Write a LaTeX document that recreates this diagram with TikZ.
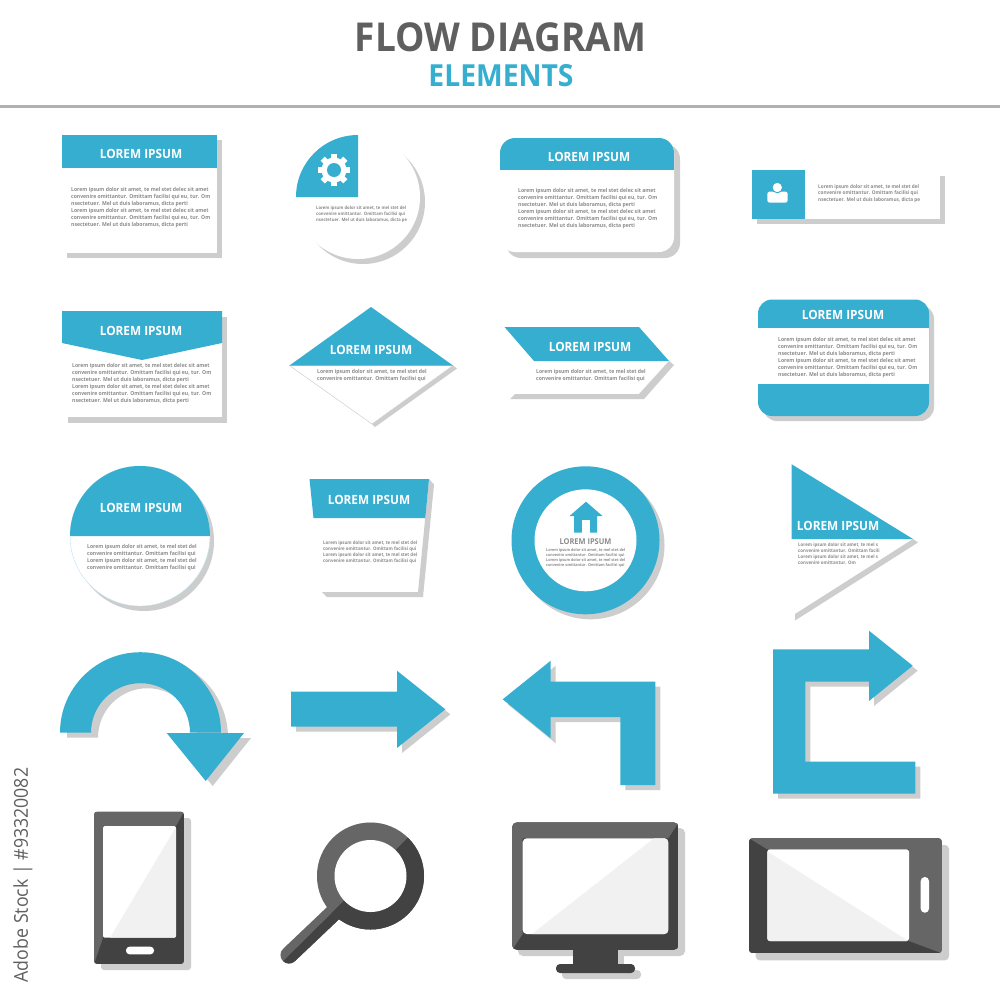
\documentclass[tikz,border=0pt]{standalone}
\usepackage{fontspec}
\setmainfont{Open Sans}[FakeStretch=0.93]
\definecolor{fblue}{HTML}{36AED0}
\definecolor{fshade}{HTML}{CDCDCD}
\definecolor{ftitle}{HTML}{5F5F5F}
\definecolor{fbody}{HTML}{8C8C8C}
\definecolor{fdark}{HTML}{424242}
\definecolor{fmid}{HTML}{666666}
\definecolor{flight}{HTML}{F1F1F1}
\definecolor{frule}{HTML}{B0B0B0}
\tikzset{
  bluefill/.style={fill=fblue},
  shadefill/.style={fill=fshade},
  head/.style={text=white,font=\bfseries\fontsize{12.7}{14}\selectfont,inner sep=0pt},
  bodytxt/.style={text=fbody,align=left,anchor=north west,inner sep=0pt},
  bodyL/.style={bodytxt,font=\bfseries\fontsize{5.48}{7}\selectfont},
  bodyB/.style={bodytxt,font=\bfseries\fontsize{5.05}{6.5}\selectfont},
  bodyT/.style={bodytxt,font=\bfseries\fontsize{4.7}{6}\selectfont},
  bodyM/.style={bodytxt,font=\bfseries\fontsize{4.5}{6}\selectfont},
  bodyS/.style={bodytxt,font=\bfseries\fontsize{3.95}{5.1}\selectfont},
}
\newcommand{\longA}{Lorem ipsum dolor sit amet, te mel stet delec sit amet\\convenire omittantur. Omittam facilisi qui eu, tur. Om\\nsectetuer. Mel ut duis laboramus, dicta perti}
\newcommand{\shortA}{Lorem ipsum dolor sit amet, te mel stet del\\convenire omittantur. Omittam facilisi qui}
\begin{document}
\begin{tikzpicture}[x=1pt,y=-1pt]
\useasboundingbox (0,0) rectangle (1000,999);
\fill[white] (0,0) rectangle (1000,999);
% title
\node[text=ftitle,font=\bfseries\fontsize{39.8}{42}\selectfont,inner sep=0pt] (title) at (500.5,37) {FLOW DIAGRAM};
\node[text=fblue,font=\bfseries\fontsize{30.4}{32}\selectfont,inner sep=0pt] (subtitle) at (501,76) {ELEMENTS};
\fill[frule] (0,105) rectangle (1000,108);
% side label
\node[text=ftitle,rotate=90,font=\fontsize{19.1}{21}\selectfont,inner sep=0pt] (stock) at (23,875) {Adobe Stock | \#93320082};

% 1 square box
\fill[shadefill] (67,140) rectangle (222,258);
\fill[white] (62,135) rectangle (217,253);
\fill[bluefill] (62,135) rectangle (217,168);
\node[head] (t1) at (141,154) {LOREM IPSUM};
\node[bodyL] (b1) at (71,187.3) {\longA\\\longA};

% 2 circle gear
\fill[shadefill] (363,202) circle [radius=62];
\fill[white] (358,197) circle [radius=62];
\fill[bluefill] (358,197) -- (358,135) arc (270:180:62) -- cycle;
\fill[white] (334,170) circle [radius=12.5];
\foreach \a in {0,45,...,315}{\fill[white,shift={(334,170)},rotate=\a] (-3,-16) rectangle (3,-10);}
\fill[bluefill] (334,170) circle [radius=7];
\node[bodyM] (b2) at (316,206) {Lorem ipsum dolor sit amet, te mel stet del\\convenire omittantur. Omittam facilisi qui\\nsectetuer. Mel ut duis laboramus, dicta pe};

% 3 rounded box
\fill[shadefill,rounded corners=15pt] (506,144) rectangle (680,258);
\fill[white,rounded corners=15pt] (500,138) rectangle (674,252);
\begin{scope}
\clip[rounded corners=15pt] (500,138) rectangle (674,252);
\fill[bluefill] (500,138) rectangle (674,169.5);
\end{scope}
\node[head] (t3) at (589,156.5) {LOREM IPSUM};
\node[bodyL] (b3) at (518,188.3) {\longA\\\longA};

% 4 person box
\fill[shadefill] (757,176) rectangle (945,224);
\fill[white] (752,170) rectangle (940,219);
\fill[bluefill] (752,170) rectangle (805,218.5);
\fill[white,rounded corners=2.5pt] (767.3,191.5) rectangle (787.7,202.7);
\fill[white,draw=fblue,line width=1pt] (777.3,187.5) circle [radius=5.3];
\node[bodyB] (b4) at (818,184) {Lorem ipsum dolor sit amet, te mel stet del\\convenire omittantur. Omittam facilisi qui\\nsectetuer. Mel ut duis laboramus, dicta pe};

% 5 banner box
\fill[shadefill] (68,317) rectangle (227,423);
\fill[white] (62,311) rectangle (222,417);
\fill[bluefill] (62,311) -- (222,311) -- (222,343) -- (142,360) -- (62,343) -- cycle;
\node[head] (t5) at (141,331) {LOREM IPSUM};
\node[bodyL] (b5) at (72,363) {\longA\\\longA};

% 6 diamond
\fill[shadefill] (289.5,365.5) -- (453,365.5) -- (457,368.5) -- (375,427) -- (372,424) -- cycle;
\fill[white,draw=fshade,line width=.4pt] (289.5,365.5) -- (372,424) -- (453,365.5) -- cycle;
\fill[bluefill] (371,307) -- (453,365.5) -- (289.5,365.5) -- cycle;
\node[head] (t6) at (371,349.5) {LOREM IPSUM};
\node[bodyL] (b6) at (317,369) {\shortA};

% 7 chevron
\fill[shadefill] (669,361) -- (674,365) -- (644,399) -- (510,399) -- (515,394) -- (639,394) -- cycle;
\fill[bluefill] (504.5,327) -- (639,327) -- (669,361) -- (534,361) -- cycle;
\node[head] (t7) at (590,347) {LOREM IPSUM};
\node[bodyL] (b7) at (536,369) {\shortA};

% 8 rounded full box
\fill[shadefill,rounded corners=14pt] (763,305) rectangle (934,421);
\fill[bluefill,rounded corners=14pt] (758,299.5) rectangle (929,416);
\fill[white] (758,328) rectangle (929,384);
\node[head] (t8) at (843,315) {LOREM IPSUM};
\node[bodyL] (b8) at (778,337) {\longA\\\longA};

% 9 half circle
\fill[shadefill] (144,541) circle [radius=70];
\fill[white,draw=fblue!35,line width=.4pt] (140,536) circle [radius=70];
\fill[bluefill] (70,536) arc (180:360:70) -- cycle;
\node[head] (t9) at (141,508) {LOREM IPSUM};
\node[bodyL] (b9) at (87,544) {\shortA\\\shortA};

% 10 trapezoid
\fill[shadefill] (434,484.5) -- (423,597) -- (327,597) -- (322,592) -- (418,592) -- (429,479) -- cycle;
\fill[bluefill] (309.5,479) -- (429,479) -- (425.3,518) -- (313.5,518) -- cycle;
\node[head] (t10) at (369,499.5) {LOREM IPSUM};
\node[bodyT] (b10) at (323,541) {\shortA\\\shortA};

% 11 ring
\fill[shadefill] (590.5,545.3) circle [radius=74];
\fill[bluefill] (585.5,540.3) circle [radius=74];
\fill[white] (585.5,540.3) circle [radius=51];
\fill[bluefill] (586,501.7) -- (602.5,516) -- (597,516) -- (597,532.7) -- (574,532.7) -- (574,516) -- (569.5,516) -- cycle;
\fill[white] (581.7,520.3) rectangle (590,532.7);
\node[text=fbody,font=\bfseries\fontsize{8}{9}\selectfont,inner sep=0pt] (t11) at (585.5,542) {LOREM IPSUM};
\node[bodyS] (b11) at (546,548) {\shortA\\\shortA};

% 12 triangle
\fill[shadefill] (913,539) -- (918,542.5) -- (795,620.5) -- (795,614) -- cycle;
\fill[bluefill] (791.7,464.3) -- (913,539) -- (791.7,539) -- cycle;
\node[head,anchor=west] (t12) at (796.7,526) {LOREM IPSUM};
\node[bodyT] (b12) at (798,543) {Lorem ipsum dolor sit amet, te mel s\\convenire omittantur. Omittam facili\\Lorem ipsum dolor sit amet, te mel s\\convenire omittantur. Om};

% 13 curved arrow
\newcommand{\curvearrow}{(60,732.7) arc (180:360:80.5) -- (190,732.7) arc (360:180:49.5) -- cycle (166.7,733) -- (244,733) -- (205.7,781) -- cycle}
\fill[shadefill,shift={(7,5)}] \curvearrow;
\fill[bluefill] \curvearrow;

% 14 right arrow
\newcommand{\rightarrowshape}{(291,691.7) -- (397,691.7) -- (397,670.7) -- (445.3,709.3) -- (397,748) -- (397,726.7) -- (291,726.7) -- cycle}
\fill[shadefill,shift={(5,5)}] \rightarrowshape;
\fill[bluefill] \rightarrowshape;

% 15 left turn arrow
\newcommand{\leftturnshape}{(502.7,699.3) -- (550.7,660.7) -- (550.7,681.7) -- (655.3,681.7) -- (655.3,785) -- (620.3,785) -- (620.3,717) -- (550.7,717) -- (550.7,738.3) -- cycle}
\fill[shadefill,shift={(5,5)}] \leftturnshape;
\fill[bluefill] \leftturnshape;

% 16 U-turn arrow
\newcommand{\uturnshape}{(773,649.3) -- (869,649.3) -- (869,630.7) -- (912.7,665.7) -- (869,701) -- (869,681.7) -- (805.3,681.7) -- (805.3,761.7) -- (915.3,761.7) -- (915.3,793.7) -- (773,793.7) -- cycle}
\fill[shadefill,shift={(5,5)}] \uturnshape;
\fill[bluefill] \uturnshape;

% phone
\fill[shadefill,rounded corners=3pt] (101,818) rectangle (191,970);
\begin{scope}
\clip[rounded corners=3pt] (94,811.7) rectangle (184,964);
\fill[fdark] (94,811.7) rectangle (184,964);
\fill[fmid] (94,811.7) -- (184,811.7) -- (176,826) -- (103,826) -- (103,937.7) -- (94,964) -- cycle;
\end{scope}
\fill[white,rounded corners=2pt] (103,826) rectangle (176,937.7);
\begin{scope}
\clip[rounded corners=2pt] (103,826) rectangle (176,937.7);
\fill[flight] (176,827) -- (176,937.7) -- (110,937.7) -- cycle;
\end{scope}
\fill[white,rounded corners=3.5pt] (126,946.7) rectangle (154,954.3);

% magnifier
\coordinate (lenscentre) at (370.5,876);
\coordinate (handleend) at (289,955);
\coordinate (handlestart) at (338.7,907.8);
\begin{scope}[shift={(0,9)}]
\fill[shadefill] (lenscentre) circle [radius=53.5];
\draw[fshade,line width=17pt,line cap=round] (handlestart) -- (handleend);
\end{scope}
\fill[fmid] (lenscentre) circle [radius=53.5];
\draw[fmid,line width=17pt,line cap=round] (handlestart) -- (handleend);
\begin{scope}
\clip (250,994) -- (446,800) -- (520,800) -- (520,1000) -- cycle;
\fill[fdark] (lenscentre) circle [radius=53.5];
\draw[fdark,line width=17pt,line cap=round] (handlestart) -- (handleend);
\end{scope}
\fill[white] (lenscentre) circle [radius=36];

% monitor
\fill[shadefill,rounded corners=5pt] (518,828) rectangle (685,956);
\fill[shadefill] (579,956) rectangle (624,970);
\fill[shadefill,rounded corners=4pt] (562,970) rectangle (641,979);
\begin{scope}
\clip[rounded corners=5pt] (512,822.3) rectangle (678.7,950);
\fill[fdark] (512,822.3) rectangle (678.7,950);
\fill[fmid] (512,822.3) -- (678.7,822.3) -- (668.3,838.3) -- (522.7,838.3) -- (522.7,934) -- (512,950) -- cycle;
\end{scope}
\fill[fdark] (573,950) rectangle (618,966);
\fill[fdark,rounded corners=4pt] (556,964) rectangle (635,973);
\fill[white,rounded corners=4pt] (522.7,838.3) rectangle (668.3,934);
\begin{scope}
\clip[rounded corners=4pt] (522.7,838.3) rectangle (668.3,934);
\fill[flight] (654,838.3) -- (668.3,838.3) -- (668.3,934) -- (532,934) -- cycle;
\end{scope}

% tablet
\fill[shadefill,rounded corners=4pt] (755.7,845) rectangle (949,960.3);
\begin{scope}
\clip[rounded corners=4pt] (748.7,838) rectangle (942,953.3);
\fill[fdark] (748.7,838) rectangle (942,953.3);
\fill[fmid] (748.7,838) -- (942,838) -- (942,953.3) -- (909,941) -- (909,849.3) -- (767.3,849.3) -- cycle;
\end{scope}
\fill[white,rounded corners=2.5pt] (767.3,849.3) rectangle (909,941);
\begin{scope}
\clip[rounded corners=2.5pt] (767.3,849.3) rectangle (909,941);
\fill[flight] (767.3,851.5) -- (908.5,941) -- (767.3,941) -- cycle;
\end{scope}
\fill[white,rounded corners=4pt] (920.7,877) rectangle (929,912.7);
\end{tikzpicture}
\end{document}
